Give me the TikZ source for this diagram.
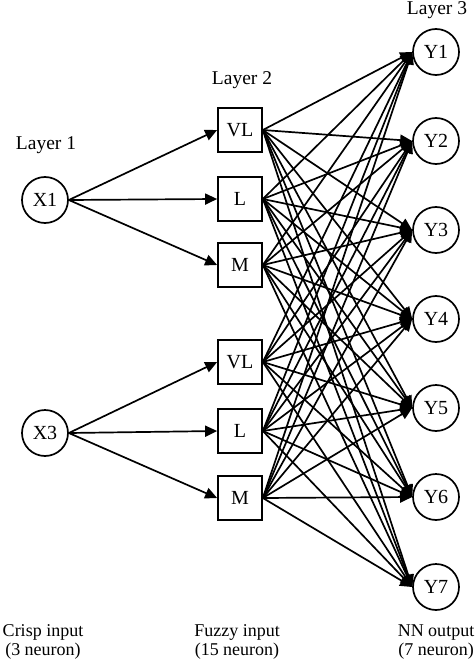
\documentclass[tikz,border=0pt]{standalone}
\usepackage{fontspec}
\setmainfont{Liberation Serif}
\usetikzlibrary{arrows.meta}
\begin{document}
\begin{tikzpicture}[x=1pt,y=-1pt,
  neuron/.style={circle,draw,line width=1.7pt,minimum size=46pt,inner sep=0pt,font=\fontsize{20}{21}\selectfont},
  fuzzy/.style={rectangle,draw,line width=1.7pt,minimum width=44pt,minimum height=44pt,inner sep=0pt,font=\fontsize{20}{21}\selectfont},
  lbl/.style={font=\fontsize{19.5}{20}\selectfont,inner sep=0pt},
  bottomtxt/.style={font=\fontsize{18}{19}\selectfont,align=center,inner sep=0pt},
  conn/.style={line width=1.7pt,-{Triangle[length=12pt,width=11pt]}}]
\useasboundingbox (0,0) rectangle (474,660);
% layer 1
\node[neuron] (x1) at (45,200) {X1};
\node[neuron] (x3) at (45,433) {X3};
% layer 2
\node[fuzzy] (a1) at (240,130) {VL};
\node[fuzzy] (a2) at (240,199) {L};
\node[fuzzy] (a3) at (240,265) {M};
\node[fuzzy] (b1) at (240,362) {VL};
\node[fuzzy] (b2) at (240,431) {L};
\node[fuzzy] (b3) at (240,498) {M};
% layer 3
\node[neuron] (y1) at (436,52) {Y1};
\node[neuron] (y2) at (436,141) {Y2};
\node[neuron] (y3) at (436,230) {Y3};
\node[neuron] (y4) at (436,319) {Y4};
\node[neuron] (y5) at (436,408) {Y5};
\node[neuron] (y6) at (436,497) {Y6};
\node[neuron] (y7) at (436,587) {Y7};
% labels
\node[lbl] (l1) at (46,145) {Layer 1};
\node[lbl] (l2) at (242,80) {Layer 2};
\node[lbl] (l3) at (437,10) {Layer 3};
\node[bottomtxt] (c1) at (43,642) {Crisp input\\(3 neuron)};
\node[bottomtxt] (c2) at (237,642) {Fuzzy input\\(15 neuron)};
\node[bottomtxt] (c3) at (436,642) {NN output\\(7 neuron)};
% connectors
\foreach \b in {a1,a2,a3} \draw[conn] (x1.east) -- (\b.west);
\foreach \b in {b1,b2,b3} \draw[conn] (x3.east) -- (\b.west);
\foreach \b in {a1,a2,a3,b1,b2,b3}
  \foreach \y in {y1,y2,y3,y4,y5,y6,y7}
    \draw[conn] (\b.east) -- (\y.west);
\end{tikzpicture}
\end{document}
